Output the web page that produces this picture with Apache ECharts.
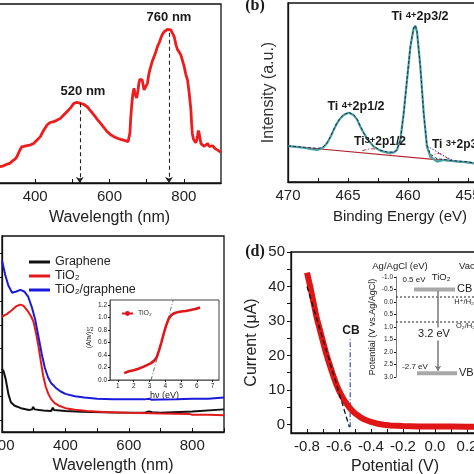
<!DOCTYPE html>
<html lang="en">
<head>
<meta charset="UTF-8">
<title>TiO2 / graphene</title>
<style>
  html, body { margin: 0; padding: 0; background: #fff; }
  #main { width: 474px; height: 474px; }
</style>
</head>
<body>
<div id="main"></div>
<script src="https://cdn.jsdelivr.net/npm/echarts@6/dist/echarts.min.js"></script>
<script>
// (a) photoluminescence spectrum
var plWavelength = [305, 315, 325, 332, 340, 346, 351, 357, 364, 370, 378, 386, 396, 405, 414, 423, 432, 440, 450, 458, 468, 476, 486, 495, 504, 512, 522, 530, 540, 549, 558, 567, 576, 585, 594, 603, 612, 621, 630, 640, 650, 653, 655, 657, 660, 663, 666, 668, 670, 673, 675, 677, 679, 682, 684, 686, 688, 691, 693, 697, 702, 706, 711, 715, 720, 725, 729, 734, 738, 742, 747, 752, 756, 760, 765, 770, 774, 779, 783, 788, 792, 797, 801, 805, 810, 814, 817, 819, 821, 823, 826, 828, 832, 835, 837, 839, 841, 844, 846, 850, 855, 860, 864, 868, 873, 878, 882, 884, 886, 890, 895, 900];
var plIntensity = [9.1, 9.6, 10.6, 11.0, 12.5, 13.4, 14.7, 17.5, 20.3, 20.5, 20.9, 21.2, 22.1, 24.0, 25.9, 29.5, 32.4, 33.8, 34.3, 35.0, 36.1, 37.8, 39.9, 42.0, 44.5, 45.0, 44.5, 44.0, 42.6, 40.3, 38.0, 35.6, 33.3, 31.0, 28.6, 27.0, 25.9, 25.0, 24.4, 23.8, 23.1, 23.3, 28, 36, 44, 50, 52.9, 50.5, 49.2, 47.5, 48.2, 52, 55.7, 58, 58.5, 58.0, 57.5, 54, 52, 52.5, 55.7, 61, 65, 68, 70.6, 73.5, 76.2, 78.5, 80.8, 83, 84.5, 85.5, 85.8, 86.3, 85.5, 83.5, 81.8, 77, 74.5, 73, 71.5, 68, 65, 61, 57.5, 51, 45, 40.8, 33, 27.4, 24.5, 23.5, 22.5, 24, 26.5, 29.3, 28, 24.5, 22, 21.5, 20.5, 21, 22.1, 20.5, 19.4, 20.8, 21.8, 19.2, 19.4, 18.5, 17.8, 17.2];
var plPeakNm = [520, 760];
var plPeakTop = [44.5, 84];
var plTicks = [400, 600, 800];

// (b) XPS Ti 2p
var xpsEnergy = [470, 469.3, 468.6, 468, 467.58, 467.3, 467.03, 466.75, 466.47, 466.2, 465.92, 465.64, 465.36, 464.94, 464.53, 464.25, 463.97, 463.7, 463.42, 462.86, 462.31, 461.75, 461.19, 460.92, 460.64, 460.36, 460.08, 459.8, 459.53, 459.39, 459.25, 458.97, 458.69, 458.42, 458.14, 457.58, 457.03, 456.2, 455, 454.5, 453, 451.5, 450];
var xpsMeasured = [20.0, 19.6, 19.0, 18.3, 17.9, 18.5, 19.5, 21.6, 25, 29, 32.8, 35.5, 37.4, 38.7, 37.4, 35, 30.9, 27.5, 24.4, 19.75, 17.5, 16.4, 16.4, 17.9, 23.5, 38.4, 57, 75.6, 85.9, 87.2, 84, 64.4, 38.4, 19.75, 14.2, 11.4, 12.3, 11.7, 11, 10.4, 9.3, 8.6, 8.0];
var xpsFit = [20.1, 19.8, 19.4, 19.0, 18.8, 19.0, 19.8, 21.8, 25.2, 29.2, 33.0, 35.8, 37.6, 38.9, 37.6, 35.2, 31.2, 27.6, 24.2, 19.9, 17.8, 16.8, 16.6, 18.0, 23.2, 38.0, 57.5, 76, 86, 87.5, 84.2, 64, 38, 20.5, 15.5, 13.0, 12.6, 11.9, 11.2, 10.7, 9.8, 8.9, 8.1];
var xpsBgEnergy = [470, 450];
var xpsBgValue = [20.1, 7.8];
var ti3p1Energy = [463.8, 463.2, 462.6, 462.0, 461.4];
var ti3p1Value = [17.5, 18.6, 18.4, 17.0, 15.6];
var ti3p3Energy = [458.2, 457.8, 457.4, 457.0, 456.5];
var ti3p3Value = [13.6, 15.5, 16.0, 14.5, 12.4];
var ti3EnvEnergy = [458.4, 458.0, 457.6, 457.2, 456.8, 456.2];
var ti3EnvValue = [20, 18.5, 17, 15.5, 13.8, 12];
var xpsTicks = [470, 465, 460, 455, 450];

// (c) UV-vis absorption
var grWavelength = [200, 205, 212, 220, 228, 240, 260, 285, 295, 298, 303, 330, 355, 360, 364, 400, 450, 550, 650, 663, 668, 673, 700, 800, 900];
var grAbs = [2.15, 2.05, 1.7, 1.1, 0.75, 0.6, 0.5, 0.42, 0.45, 0.55, 0.45, 0.4, 0.38, 0.52, 0.42, 0.38, 0.35, 0.32, 0.31, 0.36, 0.42, 0.33, 0.31, 0.36, 0.45];
var tiWavelength = [200, 215, 230, 245, 257, 268, 280, 292, 300, 308, 315, 322, 330, 338, 346, 355, 365, 380, 400, 430, 470, 520, 600, 700, 790, 800, 850, 900];
var tiAbs = [4.35, 4.45, 4.6, 4.78, 4.85, 4.8, 4.6, 4.35, 4.1, 3.6, 3.1, 2.5, 1.85, 1.4, 1.1, 0.88, 0.72, 0.6, 0.5, 0.43, 0.38, 0.34, 0.31, 0.28, 0.26, 0.22, 0.22, 0.2];
var tgWavelength = [200, 210, 220, 232, 245, 258, 270, 282, 295, 305, 315, 325, 335, 345, 355, 360, 363, 370, 385, 400, 430, 460, 500, 550, 600, 650, 665, 672, 700, 750, 800, 850, 900];
var tgAbs = [6.7, 6.1, 5.65, 5.35, 5.4, 5.47, 5.4, 5.2, 4.7, 4.2, 3.5, 2.8, 2.2, 1.8, 1.55, 1.6, 1.45, 1.35, 1.2, 1.1, 1.0, 0.95, 0.9, 0.88, 0.87, 0.87, 0.9, 0.85, 0.86, 0.87, 0.9, 0.9, 0.95];
var uvTicks = [200, 400, 600, 800];

// (c) inset Tauc plot
var taucHv = [1.4, 1.5, 1.7, 2.0, 2.3, 2.6, 2.9, 3.1, 3.3, 3.45, 3.6, 3.75, 3.9, 4.05, 4.2, 4.35, 4.5, 4.7, 5.0, 5.3, 5.6, 5.9, 6.2];
var taucValue = [0.11, 0.12, 0.14, 0.155, 0.18, 0.21, 0.245, 0.27, 0.31, 0.36, 0.47, 0.6, 0.74, 0.87, 0.97, 1.03, 1.06, 1.08, 1.095, 1.105, 1.12, 1.135, 1.16];
var taucFitHv = [3.1, 4.5];
var taucFitValue = [0, 1.28];

// (d) current vs potential
var ivPotential = [-0.8, -0.78, -0.76, -0.74, -0.72, -0.7, -0.68, -0.66, -0.64, -0.62, -0.6, -0.58, -0.56, -0.54, -0.52, -0.5, -0.47, -0.44, -0.4, -0.36, -0.32, -0.28, -0.2, -0.1, 0, 0.1, 0.2, 0.3, 0.4];
var ivCurrent = [44, 40, 35.5, 31, 27.5, 24, 20.5, 17.5, 14.7, 12, 9.8, 8, 6.5, 5.2, 4.1, 3.2, 2.2, 1.4, 0.7, 0.2, -0.1, -0.3, -0.5, -0.6, -0.6, -0.65, -0.7, -0.7, -0.75];
var ivFitPotential = [-0.8, -0.535];
var ivFitCurrent = [40, -0.8];
var cbPotential = -0.53;
var cbCurrentTop = 25;
var ivTicks = [-0.8, -0.6, -0.4, -0.2, 0.0, 0.2, 0.4];

// (d) inset band diagram (V vs Ag/AgCl)
var cbLevel = -0.5, vbLevel = 2.85, hLevel = -0.2, oLevel = 0.8;

var FONT = 'Liberation Sans, Arial, DejaVu Sans, sans-serif';
var SERIF = 'Liberation Serif, Times New Roman, serif';

function zip(a, b) { return a.map(function (v, i) { return [v, b[i]]; }); }
function range(a, b, s) { var r = []; for (var v = a; v <= b + 1e-9; v += s) r.push(+v.toFixed(4)); return r; }

function axis(o) {
    var base = {
        type: 'value',
        splitLine: { show: false },
        axisLine: { show: true, onZero: false, lineStyle: { color: '#111', width: 1.3 } },
        axisTick: { show: true, inside: true, length: 4, lineStyle: { color: '#111', width: 1 } },
        axisLabel: { color: '#222', fontSize: 15, fontFamily: FONT, margin: 6 },
        nameTextStyle: { color: '#222', fontSize: 16, fontFamily: FONT }
    };
    for (var k in o) {
        if (o[k] && typeof o[k] === 'object' && !Array.isArray(o[k]) && base[k]) {
            base[k] = Object.assign({}, base[k], o[k]);
        } else {
            base[k] = o[k];
        }
    }
    return base;
}

var chart = echarts.init(document.getElementById('main'));

var grids = [
    { left: -2, top: 4, width: 223, height: 179 },              // a
    { left: 288, top: 3, width: 240, height: 179 },             // b
    { left: 2, top: 236, width: 222, height: 196 },             // c
    { left: 291, top: 252, width: 208, height: 181 },           // d
    { left: 110, top: 300, width: 109, height: 80, backgroundColor: '#fff', borderWidth: 0.8 },   // c inset
    { left: 396, top: 277, width: 100, height: 100, show: false }   // d inset
].map(function (g) {
    return Object.assign({ show: true, borderColor: '#111', borderWidth: 1.3, containLabel: false, outerBoundsMode: 'none' }, g);
});

var xAxes = [
    axis({ gridIndex: 0, min: 300, max: 900, name: 'Wavelength (nm)', nameLocation: 'middle', nameGap: 27,
        axisTick: { customValues: [400, 500, 600, 700, 800] }, axisLabel: { customValues: plTicks } }),
    axis({ gridIndex: 1, min: 450, max: 470, inverse: true, name: 'Binding Energy (eV)', nameLocation: 'middle', nameGap: 27,
        nameTextStyle: { fontSize: 15, padding: [0, 16, 0, 0] },
        axisTick: { customValues: range(450, 470, 2.5) }, axisLabel: { customValues: xpsTicks } }),
    axis({ gridIndex: 2, min: 200, max: 900, name: 'Wavelength (nm)', nameLocation: 'middle', nameGap: 26,
        axisTick: { customValues: range(200, 900, 100) }, axisLabel: { customValues: uvTicks } }),
    axis({ gridIndex: 3, min: -0.9, max: 0.4, name: 'Potential (V)', nameLocation: 'middle', nameGap: 26,
        axisTick: { customValues: range(-0.9, 0.4, 0.1) },
        axisLabel: { customValues: ivTicks, formatter: function (v) { return v.toFixed(1); } } }),
    axis({ gridIndex: 4, min: 0.5, max: 7.4, name: 'hν (eV)', nameLocation: 'middle', nameGap: 9,
        nameTextStyle: { fontSize: 9 },
        axisLine: { lineStyle: { width: 0.8 } },
        axisTick: { length: 2, inside: false, customValues: [1, 2, 3, 4, 5, 6, 7] },
        axisLabel: { fontSize: 6.5, margin: 3, customValues: [1, 2, 3, 4, 5, 6, 7] } }),
    axis({ gridIndex: 5, min: 0, max: 100, show: false })
];

var yAxes = [
    axis({ gridIndex: 0, min: 0, max: 100, axisTick: { show: false }, axisLabel: { show: false } }),
    axis({ gridIndex: 1, min: 0, max: 100, name: 'Intensity (a.u.)', nameLocation: 'middle', nameGap: 11,
        nameTextStyle: { color: '#333' }, axisTick: { show: false }, axisLabel: { show: false } }),
    axis({ gridIndex: 2, min: -0.5, max: 7.73, axisTick: { inside: false, customValues: [0, 1, 2, 3, 4, 5, 6, 7] },
        axisLabel: { show: false } }),
    axis({ gridIndex: 3, min: -2.5, max: 50, name: 'Current (μA)', nameLocation: 'middle', nameGap: 31,
        axisTick: { inside: false, customValues: range(0, 50, 5) },
        axisLabel: { customValues: [0, 10, 20, 30, 40, 50], margin: 6 } }),
    axis({ gridIndex: 4, min: 0, max: 1.28, name: '(Ahν)', nameLocation: 'middle', nameGap: 17,
        nameTextStyle: { fontSize: 7 },
        axisLine: { lineStyle: { width: 0.8 } },
        axisTick: { length: 2, inside: false, customValues: [0, 0.2, 0.4, 0.6, 0.8, 1.0, 1.2] },
        axisLabel: { fontSize: 6.5, margin: 3, customValues: [0, 0.2, 0.4, 0.6, 0.8, 1.0, 1.2],
            formatter: function (v) { return v.toFixed(1); } } }),
    axis({ gridIndex: 5, min: -1, max: 3, interval: 0.5, inverse: true, name: 'Potential (V vs.Ag/AgCl)',
        nameLocation: 'middle', nameGap: 19, nameTextStyle: { fontSize: 9 },
        axisLine: { lineStyle: { width: 0.8 } },
        axisTick: { length: 2, inside: false },
        axisLabel: { fontSize: 6.5, margin: 3, formatter: function (v) { return v.toFixed(1); } } })
];

function line(name, gi, data, color, width, type, z) {
    return {
        name: name, type: 'line', xAxisIndex: gi, yAxisIndex: gi, data: data,
        symbol: 'none', showSymbol: false, animation: false, z: z || 2,
        lineStyle: { color: color, width: width, type: type || 'solid' }, itemStyle: { color: color }
    };
}

var series = [
    // (a)
    line('PL', 0, zip(plWavelength, plIntensity), '#ee1c1c', 2.8),
    {
        type: 'lines', coordinateSystem: 'cartesian2d', xAxisIndex: 0, yAxisIndex: 0, z: 3,
        symbol: ['none', 'arrow'], symbolSize: 6, animation: false,
        lineStyle: { color: '#222', width: 1.1, type: [4, 3], opacity: 1 },
        data: plPeakNm.map(function (x, i) { return { coords: [[x, plPeakTop[i]], [x, 0]] }; })
    },
    // (b)
    line('bg', 1, zip(xpsBgEnergy, xpsBgValue), '#b0202a', 1.2),
    line('Ti3+ 2p1/2', 1, zip(ti3p1Energy, ti3p1Value), '#d0303a', 1, [4, 2, 1, 2]),
    line('Ti3+ 2p3/2', 1, zip(ti3p3Energy, ti3p3Value), '#d0303a', 1, [4, 2, 1, 2]),
    line('Ti3+ env', 1, zip(ti3EnvEnergy, ti3EnvValue), '#3040a0', 1, [1.5, 1.5]),
    line('measured', 1, zip(xpsEnergy, xpsMeasured), '#48a2a0', 2.2),
    line('fit', 1, zip(xpsEnergy, xpsFit), '#1d2a5a', 1, [3, 2], 3),
    // (c)
    line('Graphene', 2, zip(grWavelength, grAbs), '#111111', 2),
    line('TiO₂', 2, zip(tiWavelength, tiAbs), '#e31a1c', 2),
    line('TiO₂/graphene', 2, zip(tgWavelength, tgAbs), '#1a1adb', 2),
    // (c) inset
    line('Tauc fit', 4, zip(taucFitHv, taucFitValue), '#4b6b55', 0.9, [4, 2, 1, 2]),
    Object.assign(line('TiO2 inset', 4, zip(taucHv, taucValue), '#e0161c', 2.6, null, 4),
        { symbol: 'circle', symbolSize: 3 }),
    // (d)
    line('IV', 3, zip(ivPotential, ivCurrent), '#e01515', 6),
    line('tangent', 3, zip(ivFitPotential, ivFitCurrent), '#111', 1.3, [5, 3], 4),
    line('CB line', 3, [[cbPotential, -0.8], [cbPotential, cbCurrentTop]], '#4050b0', 1.2, [5, 2, 1, 2], 1),
    // (d) inset
    line('H', 5, [[0, hLevel], [100, hLevel]], '#222', 1, [2, 2]),
    line('O', 5, [[0, oLevel], [100, oLevel]], '#222', 1, [2, 2]),
    line('CBbar', 5, [[18, cbLevel], [59, cbLevel]], '#a8a8a8', 4),
    line('VBbar', 5, [[21, vbLevel], [61, vbLevel]], '#a8a8a8', 4),
    {
        type: 'lines', coordinateSystem: 'cartesian2d', xAxisIndex: 5, yAxisIndex: 5, z: 3,
        symbol: ['none', 'arrow'], symbolSize: 5, animation: false,
        lineStyle: { color: '#777', width: 1.5, opacity: 1 },
        data: [{ coords: [[42, cbLevel + 0.06], [42, vbLevel - 0.1]] }]
    }
];

function txt(x, y, text, size, extra) {
    return {
        type: 'text', x: x, y: y, z: 100,
        style: Object.assign({
            text: text, fontSize: size, fontFamily: FONT, fill: '#1a1a1a',
            align: 'center', verticalAlign: 'middle'
        }, extra || {})
    };
}
var supRich = { s: { fontSize: 9.5, fontWeight: 'bold', fontFamily: FONT, verticalAlign: 'top', lineHeight: 13 } };
var bold = { fontWeight: 'bold' };

var graphics = [
    txt(83, 91, '520 nm', 13, bold),
    txt(169, 17, '760 nm', 13, bold),
    txt(255, 6, '(b)', 16, { fontWeight: 'bold', fontFamily: SERIF }),
    txt(420, 17, 'Ti {s|4+}2p3/2', 12.5, { fontWeight: 'bold', rich: supRich }),
    txt(356, 107, 'Ti {s|4+}2p1/2', 12.5, { fontWeight: 'bold', rich: supRich }),
    txt(380, 142, 'Ti{s|3+}2p1/2', 12, { fontWeight: 'bold', rich: supRich }),
    txt(432, 145, 'Ti {s|3+}2p3/2', 12, { fontWeight: 'bold', align: 'left', rich: supRich }),
    txt(255, 252, '(d)', 16, { fontWeight: 'bold', fontFamily: SERIF }),
    txt(351, 331, 'CB', 12, bold),
    txt(90, 330, '1/2', 5, { rotation: Math.PI / 2 }),
    txt(400, 266, 'Ag/AgCl (eV)', 9.5),
    txt(459, 266, 'Vacuum (eV)', 9.5, { align: 'left' }),
    txt(414, 280, '0.5 eV', 8),
    txt(441, 277, 'TiO₂', 9.5),
    txt(457, 289, 'CB', 11, { align: 'left' }),
    txt(474, 302, 'H⁺/H₂', 7.5, { align: 'right' }),
    txt(456, 326, 'O₂/H₂O', 7.5, { align: 'left' }),
    txt(434, 334, '3.2 eV', 11, { backgroundColor: '#fff', padding: [1, 1] }),
    txt(415, 367, '-2.7 eV', 8),
    txt(459, 373, 'VB', 11, { align: 'left' })
];

var option = {
    animation: false,
    backgroundColor: '#fff',
    textStyle: { fontFamily: FONT },
    grid: grids,
    xAxis: xAxes,
    yAxis: yAxes,
    legend: [
        {
            data: ['Graphene', 'TiO₂', 'TiO₂/graphene'], orient: 'vertical', left: 29, top: 255,
            padding: 0, itemGap: 0, itemWidth: 21, itemHeight: 3, icon: 'rect', selectedMode: false,
            textStyle: { fontSize: 12.5, color: '#222', fontFamily: FONT, lineHeight: 14 }
        },
        {
            data: ['TiO2 inset'], left: 121, top: 310, padding: 0, itemWidth: 11, itemHeight: 6,
            selectedMode: false, formatter: function () { return 'TiO₂'; },
            textStyle: { fontSize: 7, color: '#333', fontFamily: FONT }
        }
    ],
    series: series,
    graphic: graphics
};

chart.setOption(option);
</script>
</body>
</html>
